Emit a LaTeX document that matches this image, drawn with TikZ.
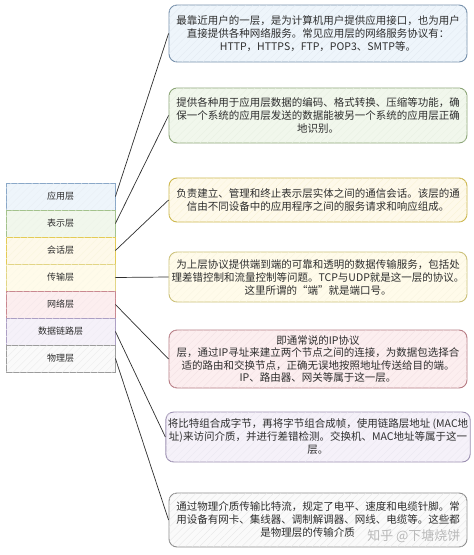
\documentclass[tikz,border=0pt]{standalone}
\usepackage{fontspec}
\newfontfamily\cjk{Noto Sans CJK SC}
\usetikzlibrary{patterns.meta}
\tikzset{>=latex}
\definecolor{appline}{HTML}{8AA8C8}\definecolor{appfill}{HTML}{EEF5FB}
\definecolor{preline}{HTML}{A3C28C}\definecolor{prefill}{HTML}{F1F7EC}
\definecolor{sesline}{HTML}{E3CB55}\definecolor{sesfill}{HTML}{FEF9EA}
\definecolor{traline}{HTML}{E2D585}\definecolor{trafill}{HTML}{FFFBEA}
\definecolor{netline}{HTML}{C98890}\definecolor{netfill}{HTML}{FCEEEF}
\definecolor{linline}{HTML}{AC9FC4}\definecolor{linfill}{HTML}{F5F1F9}
\definecolor{phyline}{HTML}{9C9C9C}\definecolor{phyfill}{HTML}{FAFAFA}
\definecolor{ink}{HTML}{2E2E2E}
\tikzset{hatch/.style={postaction={pattern={Lines[angle=45,distance=5pt,line width=0.3pt]},pattern color=#1}}}
\tikzstyle{layer}=[rectangle,line width=0.8pt,minimum height=27pt,minimum width=109pt,inner sep=0pt,text=ink,font=\cjk\fontsize{9}{11}\selectfont]
\tikzstyle{desc}=[rectangle,line width=0.9pt,rounded corners=8pt,minimum width=298pt,inner sep=2pt,align=center,text=ink,font=\cjk\fontsize{10.5}{13}\selectfont]
\tikzstyle{link}=[draw=ink,line width=0.7pt]

\begin{document}
\begin{tikzpicture}[x=1pt,y=-1pt]
\def \lx {60.5};
\def \ltop {183};
\def \rowh {27};
\def \dx {318};

\useasboundingbox (0,0) rectangle (474,555);

\foreach \i/\name/\col in {1/应用层/app,2/表示层/pre,3/会话层/ses,4/传输层/tra,5/网络层/net,6/数据链路层/lin,7/物理层/phy} {
	\node[layer,draw=\col line,fill=\col fill,hatch=\col line!20] (layer\i)
	at (\lx, {\ltop + (\i - 0.5) * \rowh}) {\name};
};

\node[desc,draw=appline!85!black,fill=appfill,hatch=appline!25,minimum height=57pt] (desc1) at (\dx, 33.5)
{最靠近用户的一层，是为计算机用户提供应用接口，也为用户\\直接提供各种网络服务。常见应用层的网络服务协议有：\\HTTP，HTTPS，FTP，POP3、SMTP等。};

\node[desc,draw=preline!85!black,fill=prefill,hatch=preline!25,minimum height=55pt] (desc2) at (\dx, 115.5)
{提供各种用于应用层数据的编码、格式转换、压缩等功能，确\\保一个系统的应用层发送的数据能被另一个系统的应用层正确\\地识别。};

\node[desc,draw=sesline!90!black,fill=sesfill,hatch=sesline!25,minimum height=44pt] (desc3) at (\dx, 200)
{负责建立、管理和终止表示层实体之间的通信会话。该层的通\\信由不同设备中的应用程序之间的服务请求和响应组成。};

\node[desc,draw=traline!90!black,fill=trafill,hatch=traline!25,minimum height=50pt] (desc4) at (\dx, 277)
{为上层协议提供端到端的可靠和透明的数据传输服务，包括处\\理差错控制和流量控制等问题。TCP与UDP就是这一层的协议。\\这里所谓的“端”就是端口号。};

\node[desc,draw=netline!90!black,fill=netfill,hatch=netline!25,minimum height=58pt,font=\cjk\fontsize{10.5}{12.5}\selectfont] (desc5) at (\dx, 359)
{即通常说的IP协议\\层，通过IP寻址来建立两个节点之间的连接，为数据包选择合\\适的路由和交换节点，正确无误地按照地址传送给目的端。\\IP、路由器、网关等属于这一层。};

\node[desc,draw=linline!90!black,fill=linfill,hatch=linline!25,minimum height=50pt] (desc6) at (\dx, 437)
{将比特组合成字节，再将字节组合成帧，使用链路层地址 (MAC地\\址)来访问介质，并进行差错检测。交换机、MAC地址等属于这一\\层。};

\node[desc,draw=phyline!90!black,fill=phyfill,hatch=phyline!25,minimum height=54pt] (desc7) at (\dx, 520)
{通过物理介质传输比特流，规定了电平、速度和电缆针脚。常\\用设备有网卡、集线器、调制解调器、网线、电缆等。这些都\\是物理层的传输介质\hspace{2em}\mbox{}};

\node[text=gray!55,font=\cjk\fontsize{13}{15}\selectfont,anchor=east] (zhihu) at (464, 536) {知乎 @下塘烧饼};

\foreach \i in {1,...,7} {
	\draw[link] (layer\i.east) -- (desc\i.west);
};

\end{tikzpicture}
\end{document}
